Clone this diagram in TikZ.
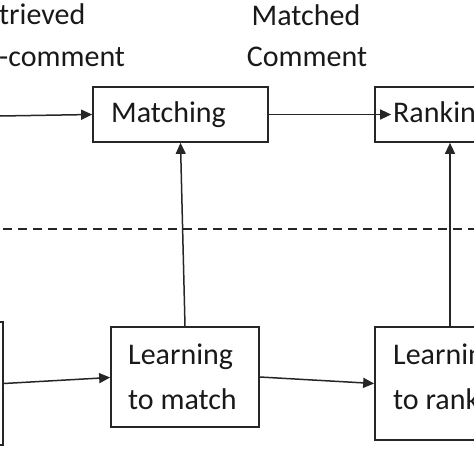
\documentclass[tikz,border=0pt]{standalone}
\usepackage{fontspec}
\setmainfont{Carlito}
\usetikzlibrary{arrows.meta}
\begin{document}
\begin{tikzpicture}[x=1pt,y=-1pt,
  box/.style={draw=black!85,line width=1.7pt,inner sep=0pt},
  txt/.style={inner sep=0pt,align=left,anchor=west,
    font=\fontsize{30}{45}\selectfont,text=black!90},
  lbl/.style={inner sep=0pt,font=\fontsize{30}{36}\selectfont,text=black!90},
  arr/.style={draw=black!85,line width=1.5pt,-{Triangle[length=11pt,width=10pt]}},
  sep/.style={draw=black!85,line width=2.2pt,dash pattern=on 9pt off 6pt}]
\useasboundingbox (0,0) rectangle (474,474);
\clip (0,0) rectangle (474,474);
\node[box,minimum width=175pt,minimum height=55pt] (match) at (180.5,114.5) {};
\node[box,minimum width=132pt,minimum height=55pt] (rank) at (441,114.5) {};
\node[box,minimum width=148pt,minimum height=100pt] (lmatch) at (185,377) {};
\node[box,minimum width=140pt,minimum height=113pt] (lrank) at (445,383.5) {};
\node[box,minimum width=100pt,minimum height=123pt] (src) at (-47,383.5) {};
\node[txt] (matchT) at (111,115) {Matching};
\node[txt] (rankT) at (393,115) {Ranking};
\node[txt] (lmatchT) at (128,377) {Learning\\to match};
\node[txt] (lrankT) at (393,377) {Learning\\to rank};
\node[lbl,anchor=base west] (t1) at (-1,24.5) {trieved};
\node[lbl,anchor=base west] (t2) at (-1,66) {-comment};
\node[lbl,anchor=base] (t3) at (306,25) {Matched};
\node[lbl,anchor=base] (t4) at (307,66) {Comment};
\coordinate (inq) at (0,116);
\draw[arr] (inq) -- (match.west);
\draw[arr] (match.east) -- ([xshift=17pt]rank.west);
\draw[arr] (src.east) -- ([yshift=-0.5pt]lmatch.west);
\draw[arr] (lmatch.east) -- (lrank.west);
\draw[arr] (lmatch.north) -- (match.south);
\draw[arr] ([xshift=5pt]lrank.north) -- ([xshift=9pt]rank.south);
\coordinate (d1) at (3,229);
\coordinate (d2) at (474,229);
\draw[sep] (d1) -- (d2);
\end{tikzpicture}
\end{document}
